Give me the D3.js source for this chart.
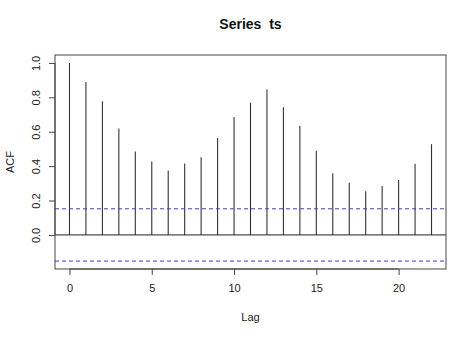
<!DOCTYPE html>
<html>
<head>
<meta charset="utf-8">
<script src="https://cdn.jsdelivr.net/npm/d3@7"></script>
<style>
  body { margin: 0; background: #fff; }
  text { font-family: "Liberation Sans", Arial, sans-serif; }
</style>
</head>
<body>
<div id="chart"></div>
<script>
// ACF values by lag
const lags = d3.range(0, 23);
const acfValues = [1.0, 0.889, 0.777, 0.619, 0.485, 0.427, 0.375, 0.415, 0.451, 0.563, 0.685,
                   0.769, 0.845, 0.742, 0.635, 0.489, 0.359, 0.303, 0.254, 0.285, 0.320, 0.414, 0.528];
const confLimit = 0.152;
const xTicks = [0, 5, 10, 15, 20];
const yTicks = [0.0, 0.2, 0.4, 0.6, 0.8, 1.0];

const width = 474, height = 338;
const box = { left: 55, top: 55, right: 446, bottom: 269 };

const svg = d3.select("#chart").append("svg")
    .attr("width", width)
    .attr("height", height);

// R-style 4% axis extension
const xExt = (22 - 0) * 0.04;
const x = d3.scaleLinear()
    .domain([0 - xExt, 22 + xExt])
    .range([box.left, box.right]);

const yMin = -confLimit, yMax = 1.0;
const yExt = (yMax - yMin) * 0.04;
const y = d3.scaleLinear()
    .domain([yMin - yExt, yMax + yExt])
    .range([box.bottom, box.top]);

// Bars (spikes)
svg.append("g")
    .selectAll("line")
    .data(lags)
    .enter().append("line")
    .attr("x1", d => x(d))
    .attr("x2", d => x(d))
    .attr("y1", y(0))
    .attr("y2", d => y(acfValues[d]))
    .attr("stroke", "#333")
    .attr("stroke-width", 1.1);

// zero line
svg.append("line")
    .attr("x1", box.left).attr("x2", box.right)
    .attr("y1", y(0)).attr("y2", y(0))
    .attr("stroke", "#222")
    .attr("stroke-width", 1);

// confidence bounds
svg.append("g")
    .selectAll("line")
    .data([confLimit, -confLimit])
    .enter().append("line")
    .attr("x1", box.left).attr("x2", box.right)
    .attr("y1", d => y(d)).attr("y2", d => y(d))
    .attr("stroke", "#3a3ae6")
    .attr("stroke-width", 1)
    .attr("stroke-dasharray", "4,3");

// box
svg.append("rect")
    .attr("x", box.left).attr("y", box.top)
    .attr("width", box.right - box.left)
    .attr("height", box.bottom - box.top)
    .attr("fill", "none")
    .attr("stroke", "#444")
    .attr("stroke-width", 1);

// x axis
const xAxis = svg.append("g")
    .attr("transform", `translate(0,${box.bottom})`)
    .call(d3.axisBottom(x).tickValues(xTicks).tickSize(6).tickPadding(9).tickFormat(d3.format("d")));
xAxis.select(".domain").attr("d", `M${x(0)},0H${x(20)}`).attr("stroke", "#444");
xAxis.selectAll(".tick line").attr("stroke", "#444");
xAxis.selectAll("text").style("font-size", "11px").attr("fill", "#222");

// y axis
const yAxis = svg.append("g")
    .attr("transform", `translate(${box.left},0)`)
    .call(d3.axisLeft(y).tickValues(yTicks).tickSize(6).tickFormat(d3.format(".1f")));
yAxis.select(".domain").attr("d", `M0,${y(0)}V${y(1)}`).attr("stroke", "#444");
yAxis.selectAll(".tick line").attr("stroke", "#444");
yAxis.selectAll(".tick text")
    .attr("x", 0).attr("dy", 0)
    .attr("text-anchor", "middle")
    .attr("transform", "translate(-15,0) rotate(-90)")
    .style("font-size", "11px").attr("fill", "#222");

// titles
svg.append("text")
    .attr("x", (box.left + box.right) / 2)
    .attr("y", 29)
    .attr("text-anchor", "middle")
    .attr("fill", "#111")
    .style("font-size", "14px")
    .style("font-weight", "bold")
    .style("white-space", "pre")
    .text("Series  ts");

svg.append("text")
    .attr("x", (box.left + box.right) / 2)
    .attr("y", 321)
    .attr("text-anchor", "middle")
    .attr("fill", "#222")
    .style("font-size", "11px")
    .text("Lag");

svg.append("text")
    .attr("transform", `translate(14,${(box.top + box.bottom) / 2}) rotate(-90)`)
    .attr("text-anchor", "middle")
    .attr("fill", "#222")
    .style("font-size", "11px")
    .text("ACF");
</script>
</body>
</html>
